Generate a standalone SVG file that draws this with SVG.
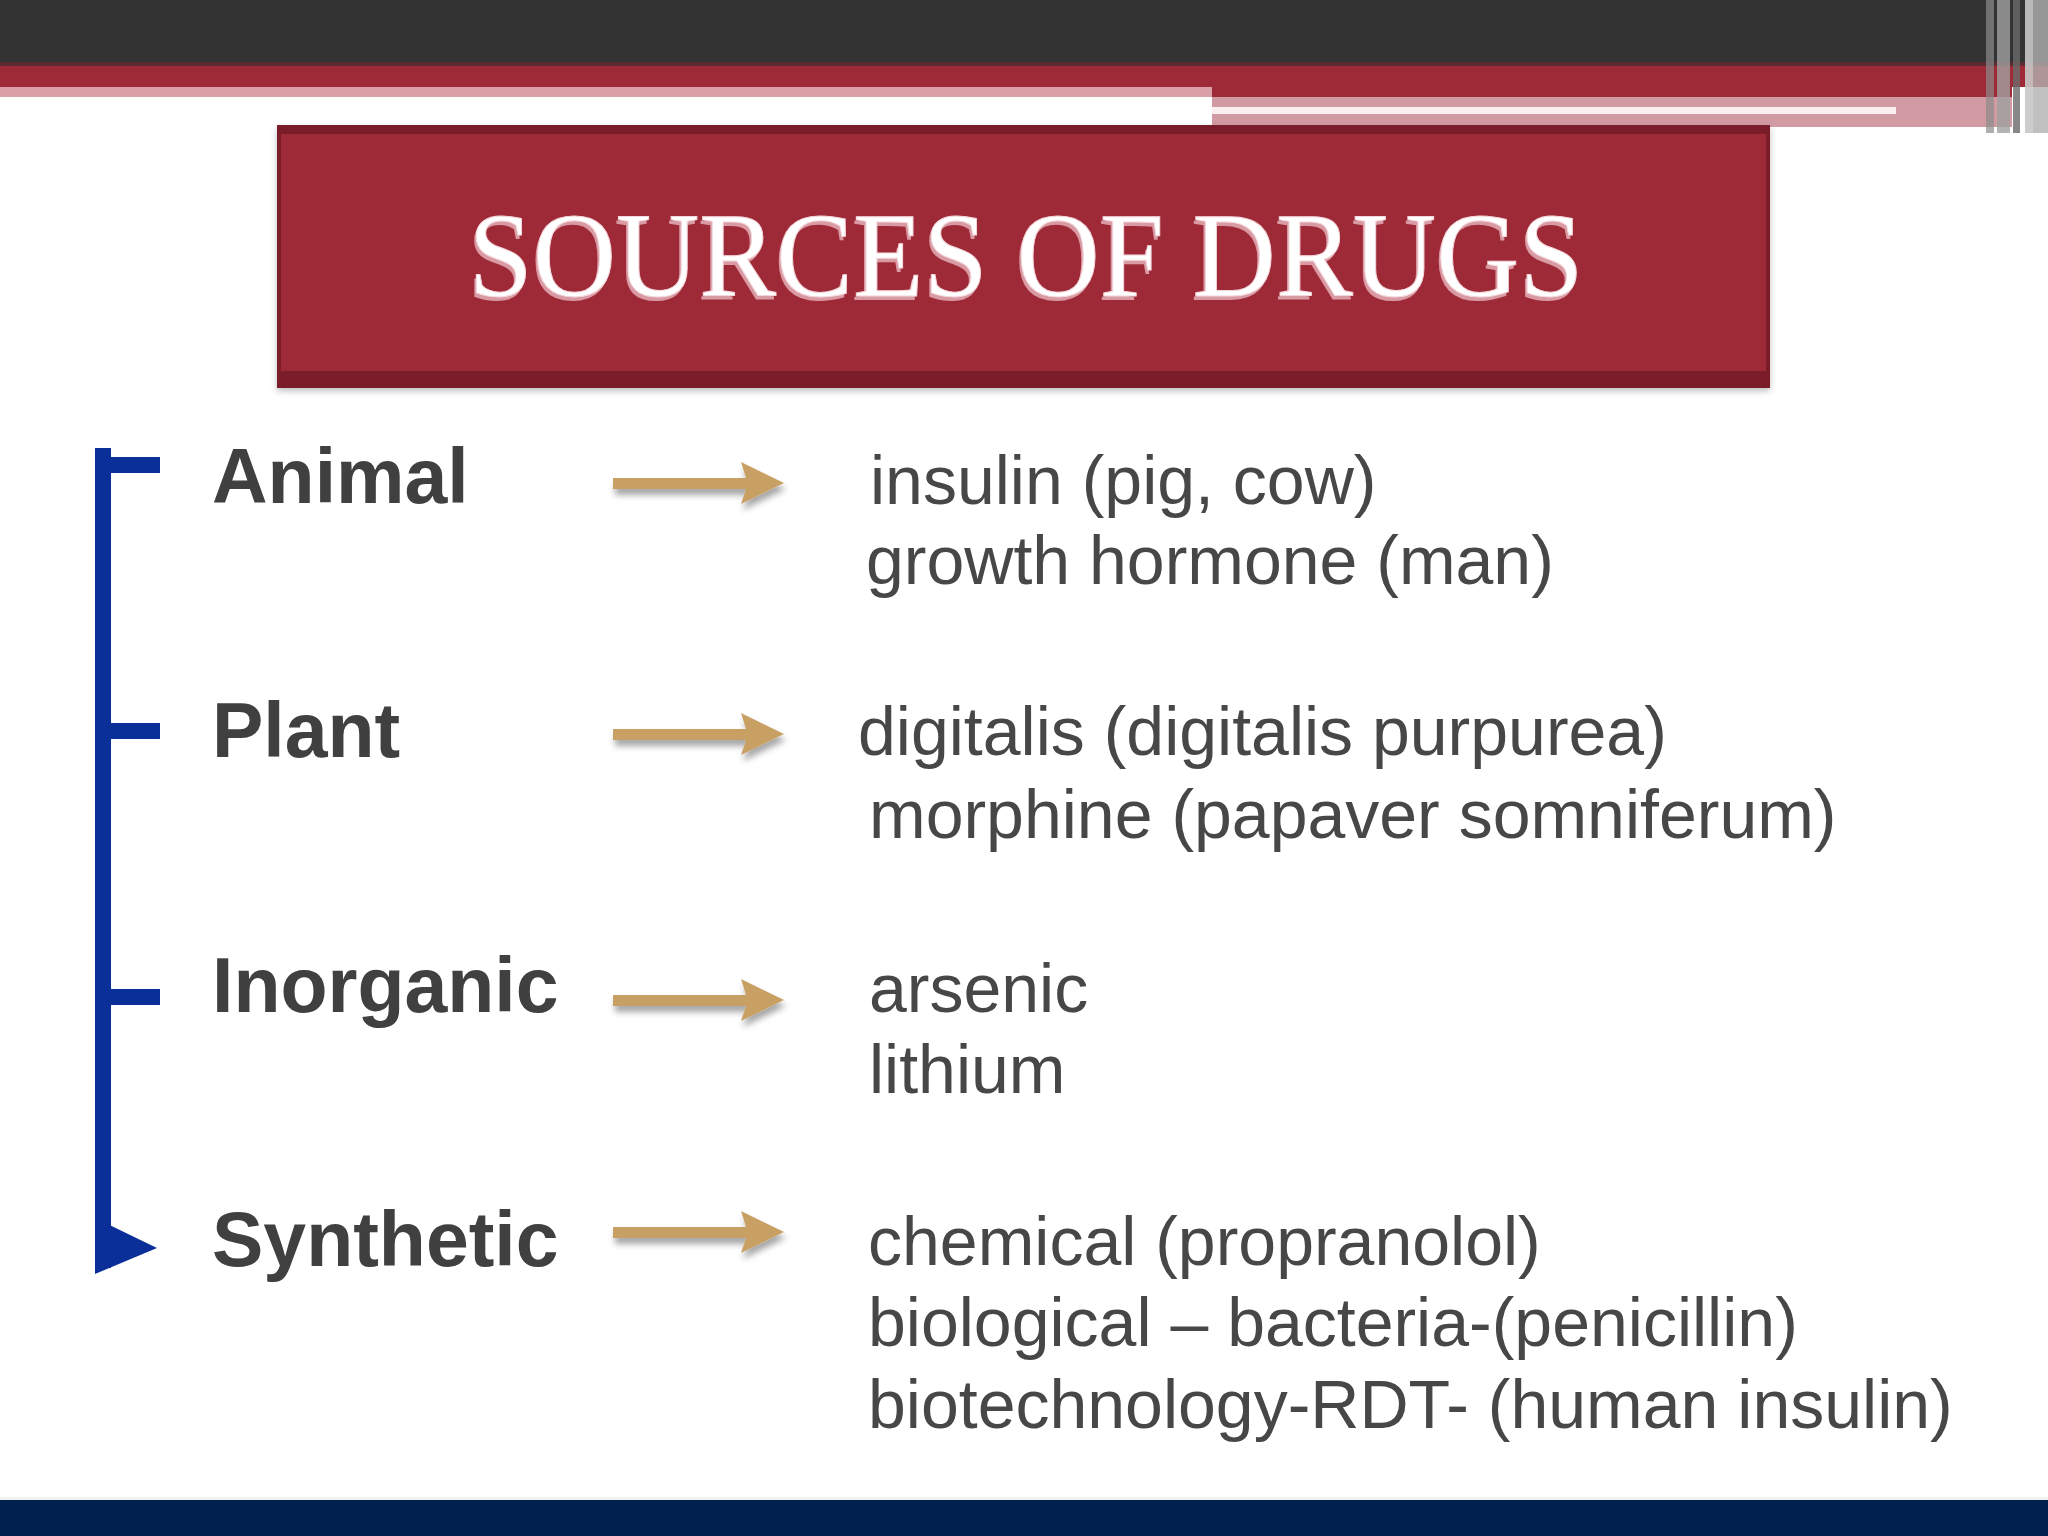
<svg xmlns="http://www.w3.org/2000/svg" width="2048" height="1536" viewBox="0 0 2048 1536">
  <defs>
    <filter id="shadow" x="-20%" y="-50%" width="140%" height="220%">
      <feDropShadow dx="2" dy="6" stdDeviation="3" flood-color="#000" flood-opacity="0.35"/>
    </filter>
    <filter id="boxshadow" x="-5%" y="-10%" width="110%" height="125%">
      <feDropShadow dx="0" dy="3" stdDeviation="3" flood-color="#000" flood-opacity="0.25"/>
    </filter>
    <style>
      .label { font-family: "Liberation Sans", Arial, sans-serif; font-weight: bold; font-size: 77px; fill: #404040; }
      .item { font-family: "Liberation Sans", Arial, sans-serif; font-size: 68px; fill: #474747; }
      .title { font-family: "Liberation Serif", "Times New Roman", serif; font-size: 121px; }
      .arrow { fill: #C9A064; }
      .bracket { fill: #0B2F98; }
    </style>
  </defs>

  <rect x="0" y="0" width="2048" height="1536" fill="#FFFFFF"/>

  <!-- top banner -->
  <g id="banner">
    <rect x="0" y="0" width="2048" height="62" fill="#333333"/>
    <rect x="0" y="62" width="2048" height="4" fill="#5A2C32"/>
    <rect x="0" y="66" width="2048" height="21" fill="#9E2A38"/>
    <rect x="0" y="87" width="1212" height="10" fill="#D9A0A8"/>
    <rect x="1212" y="87" width="800" height="10" fill="#9E2A38"/>
    <rect x="1212" y="97" width="800" height="30" fill="#D29AA2"/>
    <rect x="1212" y="107" width="684" height="7" fill="#FBEFF1"/>
    <rect x="1986" y="0" width="8" height="133" fill="#8C8C8C" opacity="0.7"/>
    <rect x="1997" y="0" width="13" height="133" fill="#A0A0A0" opacity="0.8"/>
    <rect x="2013" y="0" width="7" height="133" fill="#6A6A6A" opacity="0.8"/>
    <rect x="2025" y="0" width="8" height="133" fill="#C8C8C8" opacity="0.9"/>
    <rect x="2033" y="0" width="15" height="133" fill="#B0B0B0" opacity="0.8"/>
  </g>

  <!-- title box -->
  <g id="title">
    <rect x="277" y="125" width="1493" height="263" fill="#7A1F2A" filter="url(#boxshadow)"/>
    <rect x="281" y="134" width="1485" height="237" fill="#9E2A38"/>
    <text class="title" x="1024" y="300" text-anchor="middle" textLength="1115" lengthAdjust="spacingAndGlyphs" fill="#D99AA4">SOURCES OF DRUGS</text>
    <text class="title" x="1026" y="296" text-anchor="middle" textLength="1115" lengthAdjust="spacingAndGlyphs" fill="#FFFFFF" stroke="#F3D6DA" stroke-width="1">SOURCES OF DRUGS</text>
  </g>

  <!-- bracket -->
  <g id="connectors">
    <g id="bracket" class="bracket">
      <rect x="95" y="448" width="16" height="820"/>
      <rect x="95" y="457" width="65" height="16"/>
      <rect x="95" y="723" width="65" height="16"/>
      <rect x="95" y="989" width="65" height="16"/>
      <polygon points="95,1218 157,1248 95,1274"/>
    </g>
    <g id="arrows" class="arrow" filter="url(#shadow)">
      <path d="M613,478 H746 L741,462 L784,483 L741,504 L746,489 H613 Z"/>
      <path d="M613,729 H746 L741,713 L784,734 L741,755 L746,740 H613 Z"/>
      <path d="M613,995 H746 L741,979 L784,1000 L741,1021 L746,1006 H613 Z"/>
      <path d="M613,1227 H746 L741,1211 L784,1232 L741,1253 L746,1238 H613 Z"/>
    </g>
  </g>

  <!-- nodes -->
  <g id="node-animal">
    <text class="label" x="212" y="503">Animal</text>
    <text class="item" x="870" y="504">insulin (pig, cow)</text>
    <text class="item" x="866" y="584">growth hormone (man)</text>
  </g>
  <g id="node-plant">
    <text class="label" x="212" y="757">Plant</text>
    <text class="item" x="858" y="755">digitalis (digitalis purpurea)</text>
    <text class="item" x="869" y="838">morphine (papaver somniferum)</text>
  </g>
  <g id="node-inorganic">
    <text class="label" x="212" y="1012">Inorganic</text>
    <text class="item" x="869" y="1012">arsenic</text>
    <text class="item" x="869" y="1093">lithium</text>
  </g>
  <g id="node-synthetic">
    <text class="label" x="212" y="1266">Synthetic</text>
    <text class="item" x="868" y="1265">chemical (propranolol)</text>
    <text class="item" x="868" y="1346">biological – bacteria-(penicillin)</text>
    <text class="item" x="868" y="1428">biotechnology-RDT- (human insulin)</text>
  </g>

  <!-- bottom bar -->
  <g id="footer">
    <rect x="0" y="1497" width="2048" height="3" fill="#F2F2F0"/>
    <rect x="0" y="1500" width="2048" height="36" fill="#00214F"/>
  </g>
</svg>
